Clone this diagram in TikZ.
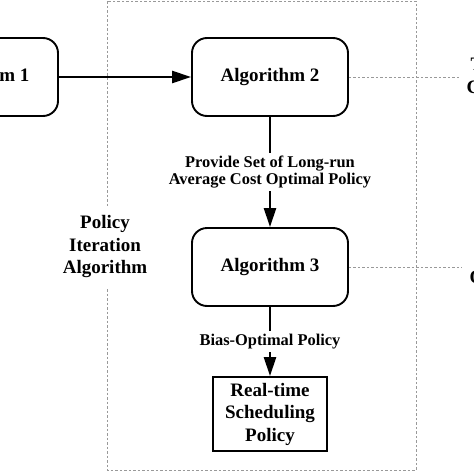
\documentclass[tikz,border=0pt]{standalone}
\usepackage{fontspec}
\setmainfont{Liberation Serif}
\usetikzlibrary{arrows.meta}
\tikzset{
  algbox/.style={draw, line width=1.9pt, rounded corners=15pt, minimum width=156pt, minimum height=78pt, inner sep=0pt,
    font=\fontsize{19}{22.5}\selectfont\bfseries},
  plainbox/.style={draw, line width=1.9pt, minimum width=114pt, minimum height=74pt, inner sep=0pt, align=center,
    font=\fontsize{19}{22.5}\selectfont\bfseries},
  flow/.style={line width=2.6pt, -{Triangle[length=19pt,width=12pt]}},
  edgelabel/.style={fill=white, align=center, inner xsep=2pt, inner ysep=3pt,
    font=\fontsize{16.4}{17.5}\selectfont\bfseries},
  guide/.style={draw=black!40, line width=0.8pt, dash pattern=on 2.5pt off 2pt},
  bigtext/.style={font=\fontsize{19}{22.5}\selectfont\bfseries},
}
\begin{document}
\begin{tikzpicture}[x=1pt,y=-1pt]
\useasboundingbox (0,0) rectangle (474,474);
\clip (0,0) rectangle (474,474);
% outer dashed frame
\draw[guide] (107,1) rectangle (416,470);
% boxes
\node[algbox] (a1) at (-20,77) {Algorithm 1};
\node[algbox] (a2) at (270,77) {Algorithm 2};
\node[algbox] (a3) at (270,267) {Algorithm 3};
\node[plainbox] (rt) at (270,414) {Real-time\\Scheduling\\Policy};
% side label
\node[bigtext, fill=white, align=center, inner xsep=4pt, inner ysep=9pt] (pia) at (105,247) {Policy\\Iteration\\Algorithm};
% right side clipped texts
\coordinate (g2) at (461,77);
\coordinate (g3) at (462,267);
\draw[guide] (a2.east) -- (g2);
\draw[guide] (a3.east) -- (g3);
\node[bigtext, anchor=base west, inner sep=0pt] (t2a) at (470.5,70.5) {T};
\node[bigtext, anchor=base west, inner sep=0pt] (t2b) at (466.5,93) {C};
\node[bigtext, anchor=base west, inner sep=0pt] (t3b) at (469.5,283.5) {O};
% flow arrows
\draw[flow] (a1.east) -- (a2.west);
\draw[flow] (a2.south) -- node[edgelabel] (l1) {Provide Set of Long-run\\Average Cost Optimal Policy} (a3.north);
\draw[flow] (a3.south) -- node[edgelabel] (l2) {Bias-Optimal Policy} (rt.north);
\end{tikzpicture}
\end{document}
